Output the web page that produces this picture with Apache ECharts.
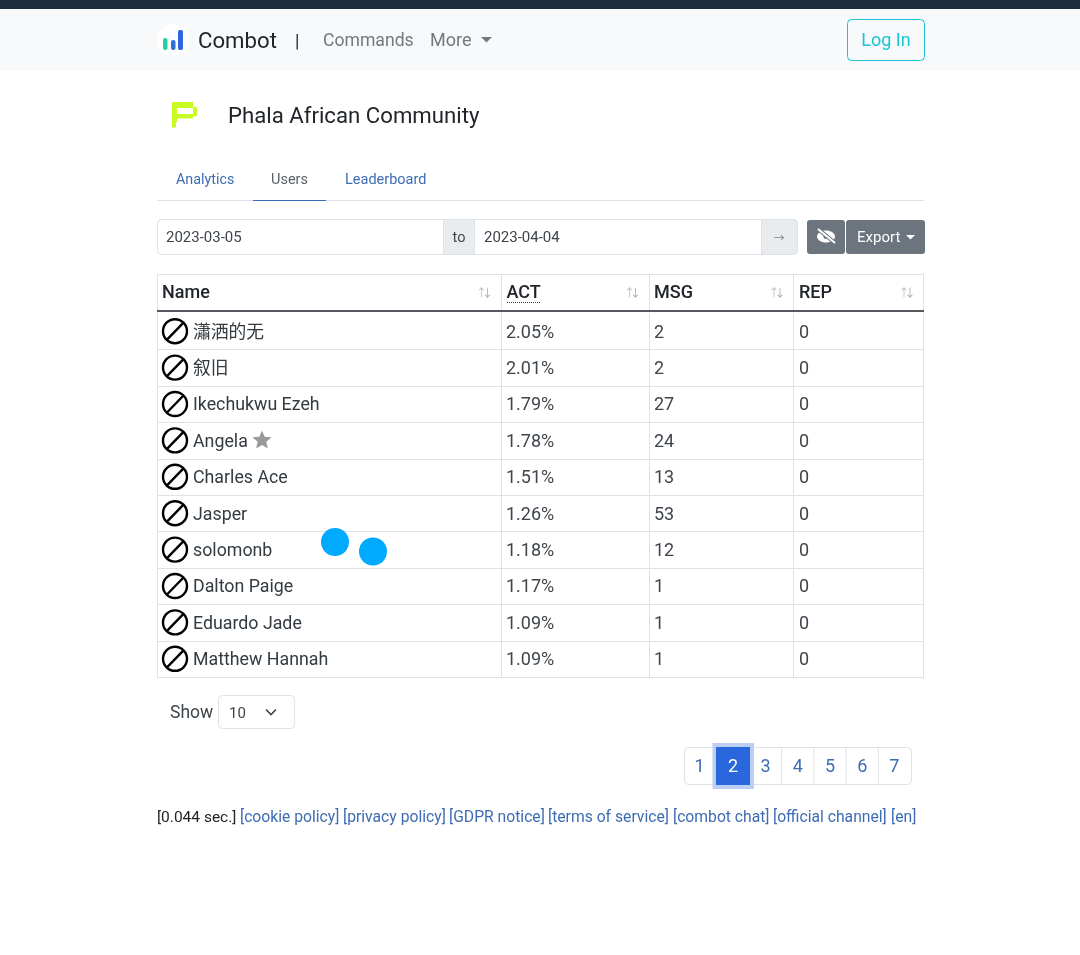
<!DOCTYPE html>
<html>
<head>
<meta charset="utf-8">
<title>Phala African Community - Users</title>
<script src="https://cdn.jsdelivr.net/npm/echarts@6/dist/echarts.min.js"></script>
<style>html,body{margin:0;padding:0;background:#fff}#main{width:1080px;height:955px}</style>
</head>
<body>
<div id="main"></div>
<script>
// table data
var names = ['瀟洒的无', '叙旧', 'Ikechukwu Ezeh', 'Angela', 'Charles Ace', 'Jasper', 'solomonb', 'Dalton Paige', 'Eduardo Jade', 'Matthew Hannah'];
var act = ['2.05%', '2.01%', '1.79%', '1.78%', '1.51%', '1.26%', '1.18%', '1.17%', '1.09%', '1.09%'];
var msg = [2, 2, 27, 24, 13, 53, 12, 1, 1, 1];
var rep = [0, 0, 0, 0, 0, 0, 0, 0, 0, 0];
var starred = ['Angela'];
var headers = ['Name', 'ACT', 'MSG', 'REP'];
var pages = ['1', '2', '3', '4', '5', '6', '7'];
var tabs = ['Analytics', 'Users', 'Leaderboard'];

var FONT = 'Roboto, "Noto Sans CJK SC", sans-serif';
var DARK = '#212529', LINK = '#3d6cb4', BORDER = '#dee2e6', GREY = '#6c757d', LIME = '#c8fb20';

function txt(x, y, text, size, fill, weight, align) {
    return { type: 'text', silent: true, style: { x: x, y: y + 2.2, text: text, fill: fill || DARK,
        font: (weight || 400) + ' ' + size + 'px ' + FONT, align: align || 'left', verticalAlign: 'middle' } };
}
function box(x, y, w, h, fill, stroke, r) {
    return { type: 'rect', silent: true, shape: { x: x, y: y, width: w, height: h, r: r || 0 },
        style: { fill: fill || 'none', stroke: stroke || 'none', lineWidth: 1 } };
}
function seg(x1, y1, x2, y2, stroke, w) {
    return { type: 'line', silent: true, shape: { x1: x1, y1: y1, x2: x2, y2: y2 }, style: { stroke: stroke, lineWidth: w || 1 } };
}
function star(cx, cy, r, fill) {
    var pts = [];
    for (var i = 0; i < 10; i++) {
        var a = -Math.PI / 2 + i * Math.PI / 5, q = i % 2 ? r * 0.45 : r;
        pts.push([cx + q * Math.cos(a), cy + q * Math.sin(a)]);
    }
    return { type: 'polygon', silent: true, shape: { points: pts }, style: { fill: fill } };
}
function sortArrows(cx) {
    return [txt(cx - 3, 292, '↑', 11, '#b8bcc0', 400, 'center'), txt(cx + 3, 292, '↓', 11, '#a4a9ae', 400, 'center')];
}

// page furniture around the table
var page = [
    box(0, 0, 1080, 9, '#1e2d3d'),
    box(0, 9, 1080, 62, '#f8f9fa'),
    { type: 'circle', silent: true, shape: { cx: 173, cy: 40, r: 16 }, style: { fill: '#fff' } },
    box(163, 38, 4.5, 12, '#28cfa6', null, 2),
    box(171, 40, 4.5, 10, '#2f6fd8', null, 2),
    box(178, 30, 5, 20, '#2a66dc', null, 2),
    txt(198, 40.5, 'Combot', 22.2, DARK),
    txt(295, 40, '|', 18, DARK),
    txt(323, 39.5, 'Commands', 17.6, '#74787d'),
    txt(430, 39.5, 'More', 18, '#74787d'),
    { type: 'polygon', silent: true, shape: { points: [[481, 37], [492, 37], [486.5, 42.5]] }, style: { fill: '#74787d' } },
    box(847.5, 19.5, 77, 41, 'none', '#17c5d8', 4),
    txt(886, 39.5, 'Log In', 18, '#17c5d8', 400, 'center'),

    // group logo
    box(172, 102, 21, 6, LIME), box(177, 114, 16, 4.5, LIME),
    box(193, 107, 4, 9, LIME), box(172, 102, 5, 20, LIME), box(172, 122, 4, 5.5, LIME),
    txt(228, 115.5, 'Phala African Community', 22.2, DARK),

    // tabs
    txt(176, 178.5, tabs[0], 14.3, LINK),
    txt(271, 178.5, tabs[1], 14.5, '#5c6268'),
    txt(345, 178.5, tabs[2], 14.5, LINK),
    seg(157, 200.5, 924, 200.5, BORDER),
    seg(253, 200.5, 326, 200.5, '#3d6cb4'),

    // date range
    box(157.5, 219.5, 640, 35, '#fff', BORDER, 4),
    box(443.5, 219.5, 31, 35, '#e9ecef', BORDER),
    box(474.5, 219.5, 287, 35, '#fff', BORDER),
    box(761.5, 219.5, 36, 35, '#e9ecef', BORDER, 4),
    txt(166, 236.5, '2023-03-05', 15, '#3f454b'),
    txt(459, 236.5, 'to', 14.5, '#3f454b', 400, 'center'),
    txt(484, 236.5, '2023-04-04', 15, '#3f454b'),
    txt(779, 237, '→', 11, '#7c838a', 400, 'center'),

    // hide + export buttons
    box(807, 220, 38, 34, GREY, null, 3),
    box(846, 220, 79, 34, GREY, null, 3),
    { type: 'ellipse', silent: true, shape: { cx: 826, cy: 236.5, rx: 9, ry: 6 }, style: { fill: '#fff' } },
    { type: 'circle', silent: true, shape: { cx: 826, cy: 236.5, r: 2.5 }, style: { fill: GREY } },
    seg(818, 229, 835, 243, GREY, 4),
    seg(818, 229, 835, 243, '#fff', 2),
    txt(857, 236.5, 'Export', 15, '#fff'),
    { type: 'polygon', silent: true, shape: { points: [[906, 235], [915, 235], [910.5, 239.5]] }, style: { fill: '#fff' } },

    // table head
    box(157.5, 274.5, 766, 37, '#fff', BORDER),
    seg(501.5, 274, 501.5, 311, BORDER),
    seg(649.5, 274, 649.5, 311, BORDER),
    seg(793.5, 274, 793.5, 311, BORDER),
    seg(157, 311, 924, 311, '#53595f', 2),
    txt(162, 291.5, headers[0], 18, DARK, 500),
    txt(506.5, 291.5, headers[1], 18, DARK, 500),
    txt(654, 291.5, headers[2], 18, DARK, 500),
    txt(799, 291.5, headers[3], 18, DARK, 500),
    { type: 'line', silent: true, shape: { x1: 507, y1: 302.5, x2: 540, y2: 302.5 }, style: { stroke: '#333', lineWidth: 1, lineDash: [1, 1] } },

    // loading dots sitting above the table
    { type: 'circle', silent: true, z: 100, shape: { cx: 335, cy: 542, r: 14 }, style: { fill: '#00aaff' } },
    { type: 'circle', silent: true, z: 100, shape: { cx: 373, cy: 551.5, r: 14 }, style: { fill: '#00aaff' } },

    // page size
    txt(170, 711.5, 'Show', 17.5, '#3f454b'),
    box(218.5, 695.5, 76, 33, '#fff', BORDER, 4),
    txt(229, 712.5, '10', 15, '#3f454b'),
    { type: 'polyline', silent: true, shape: { points: [[266, 709.5], [271, 714.5], [276, 709.5]] }, style: { stroke: '#3f454b', lineWidth: 1.6, fill: 'none' } },

    // footer
    txt(157, 815.5, '[0.044 sec.]', 15.5, DARK),
    txt(240, 815.5, '[cookie policy]', 15.7, LINK),
    txt(343, 815.5, '[privacy policy]', 15.7, LINK),
    txt(449, 815.5, '[GDPR notice]', 15.7, LINK),
    txt(548, 815.5, '[terms of service]', 15.7, LINK),
    txt(673, 815.5, '[combot chat]', 15.7, LINK),
    txt(773, 815.5, '[official channel]', 15.7, LINK),
    txt(891, 815.5, '[en]', 15.7, LINK)
];
[484.5, 632.5, 777, 907].forEach(function (cx) { page = page.concat(sortArrows(cx)); });

// pagination
var pageW = 32.2;
page.push(box(684.5, 747.5, 227, 37, '#fff', BORDER, 4));
pages.forEach(function (p, i) {
    var left = 749.5 + (i - 2) * pageW;
    if (i > 1 && i < pages.length - 1) page.push(seg(left + pageW, 747.5, left + pageW, 784.5, BORDER));
    if (p === '2') {
        page.push(box(712.5, 743, 41.5, 46, '#bccff2'));
        page.push(box(716, 747, 34, 38, '#2a66dc'));
        page.push(txt(733, 765, p, 18, '#fff', 400, 'center'));
    } else {
        page.push(txt(i === 0 ? 699.5 : left + pageW / 2, 765, p, 18, LINK, 400, 'center'));
    }
});

// one table row per category on the y axis
function renderRow(params, api) {
    var i = api.value(1);
    var p = api.coord([0, i]);
    var band = api.size([0, 1])[1];
    var cy = p[1], bottom = Math.round(cy + band / 2) + 0.5;
    var kids = [
        seg(157, bottom, 924, bottom, BORDER),
        seg(157.5, cy - band / 2, 157.5, cy + band / 2, BORDER),
        seg(501.5, cy - band / 2, 501.5, cy + band / 2, BORDER),
        seg(649.5, cy - band / 2, 649.5, cy + band / 2, BORDER),
        seg(793.5, cy - band / 2, 793.5, cy + band / 2, BORDER),
        seg(923.5, cy - band / 2, 923.5, cy + band / 2, BORDER),
        { type: 'circle', silent: true, shape: { cx: 175, cy: cy, r: 12 }, style: { fill: '#fff', stroke: '#000', lineWidth: 2.4 } },
        seg(167, cy + 8.5, 183.5, cy - 8.5, '#000', 2.4),
        txt(193, cy - 0.3, names[i], 17.8, '#333a40'),
        txt(506, cy - 0.3, act[i], 18, '#3f454b'),
        txt(654, cy - 0.3, String(msg[i]), 18, '#3f454b'),
        txt(799, cy - 0.3, String(rep[i]), 18, '#3f454b')
    ];
    if (starred.indexOf(names[i]) >= 0) kids.push(star(262, cy, 10, '#999'));
    return { type: 'group', children: kids };
}

var myChart = echarts.init(document.getElementById('main'), null, { renderer: 'canvas' });
myChart.setOption({
    animation: false,
    backgroundColor: '#fff',
    grid: { left: 157, top: 313, width: 767, height: 364 },
    xAxis: { type: 'value', show: false, min: 0, max: 1 },
    yAxis: { type: 'category', show: false, inverse: true, data: names },
    series: [{
        type: 'custom',
        renderItem: renderRow,
        encode: { x: 0, y: 1 },
        data: names.map(function (n, i) { return [0, i]; }),
        silent: true
    }],
    graphic: { elements: page }
});
</script>
</body>
</html>
